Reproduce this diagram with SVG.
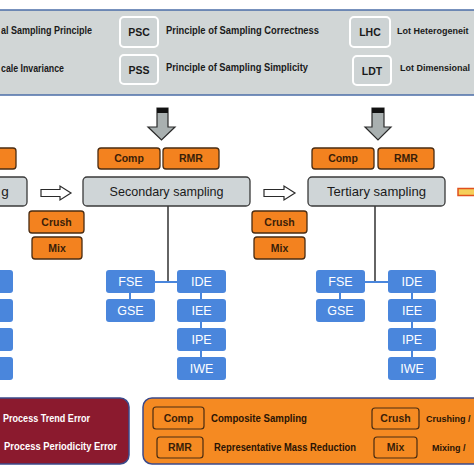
<svg xmlns="http://www.w3.org/2000/svg" width="474" height="474" viewBox="0 0 474 474">
<style>
.lbl{font-family:"Liberation Sans",Arial,sans-serif;font-weight:bold;font-size:10.5px;fill:#1a1a1a}
.abbr{font-family:"Liberation Sans",Arial,sans-serif;font-weight:bold;font-size:10.5px;fill:#1a1a1a;text-anchor:middle}
.wbox{fill:#cdd3d4;stroke:#ffffff;stroke-width:2}
.samp{fill:#cfd5d7;stroke:#3a3a3a;stroke-width:1.3}
.stxt{font-family:"Liberation Sans",Arial,sans-serif;font-size:13.5px;fill:#1a1a1a;text-anchor:middle}
.ob{fill:#f3821f;stroke:#4a2c12;stroke-width:1.3}
.otxt{font-family:"Liberation Sans",Arial,sans-serif;font-weight:bold;font-size:10.5px;fill:#3a1e08;text-anchor:middle}
.bb{fill:#4a86dc}
.btxt{font-family:"Liberation Sans",Arial,sans-serif;font-size:12.5px;fill:#ffffff;text-anchor:middle}
.ib{fill:none;stroke:#4a2c12;stroke-width:1.2}
.wt{font-family:"Liberation Sans",Arial,sans-serif;font-weight:bold;font-size:10.5px;fill:#ffffff}
.dk{font-family:"Liberation Sans",Arial,sans-serif;font-weight:bold;font-size:10.5px;fill:#2a1405}
.blink{stroke:#4a86dc;stroke-width:2}
.down{fill:#a9b0b0;stroke:#2a2a2a;stroke-width:1.2}
.wa{fill:#ffffff;stroke:#2a2a2a;stroke-width:1.2}
.edge{font-size:9px}
</style>
<rect width="474" height="474" fill="#ffffff"/>

<g id="legend-top">
<rect x="-5" y="10" width="484" height="85" fill="#d1d6d6" stroke="#4b6ea8" stroke-width="1.5"/>
<text class="lbl" x="1" y="34" textLength="91" lengthAdjust="spacingAndGlyphs">al Sampling Principle</text>
<text class="lbl" x="1" y="72" textLength="63" lengthAdjust="spacingAndGlyphs">cale Invariance</text>
<rect class="wbox" x="120" y="17" width="38" height="30" rx="4"/>
<text class="abbr" x="139" y="36">PSC</text>
<rect class="wbox" x="120" y="55" width="38" height="29" rx="4"/>
<text class="abbr" x="139" y="74">PSS</text>
<text class="lbl" x="166" y="34" textLength="153" lengthAdjust="spacingAndGlyphs">Principle of Sampling Correctness</text>
<text class="lbl" x="166" y="71" textLength="142" lengthAdjust="spacingAndGlyphs">Principle of Sampling Simplicity</text>
<rect class="wbox" x="350" y="17" width="40" height="30" rx="4"/>
<text class="abbr" x="370" y="36">LHC</text>
<rect class="wbox" x="353" y="56" width="38" height="29" rx="4"/>
<text class="abbr" x="372" y="75">LDT</text>
<text class="lbl edge" x="397" y="34">Lot Heterogeneit</text>
<text class="lbl edge" x="400" y="71">Lot Dimensional</text>
</g>

<g id="connectors">
<path class="down" d="M157,108 H168 V127 H175 L161.5,140 L148,127 H157 Z"/>
<rect x="157" y="108" width="11" height="5" fill="#111"/>
<path class="down" d="M372,108 H384 V127 H391 L378,140 L365,127 H372 Z"/>
<rect x="372" y="108" width="12" height="5" fill="#111"/>
<path class="wa" d="M41,189.5 H60 V186 L71,193 L60,200 V196.5 H41 Z"/>
<path class="wa" d="M264,189.5 H284 V186 L295,193 L284,200 V196.5 H264 Z"/>
<rect x="458" y="188.5" width="22" height="7" fill="#f5cf5a" stroke="#e0501e" stroke-width="1.5"/>
<line x1="168" y1="206" x2="168" y2="282" stroke="#111" stroke-width="1.3"/>
<line class="blink" x1="154" y1="282" x2="178" y2="282"/>
<line x1="375" y1="206" x2="375" y2="282" stroke="#111" stroke-width="1.3"/>
<line class="blink" x1="364" y1="282" x2="389" y2="282"/>
<line class="blink" x1="130" y1="293" x2="130" y2="299"/>
<line class="blink" x1="201" y1="293" x2="201" y2="357"/>
<line class="blink" x1="340" y1="293" x2="340" y2="299"/>
<line class="blink" x1="412" y1="293" x2="412" y2="357"/>
</g>

<g id="primary">
<rect class="ob" x="-20" y="148" width="36" height="21" rx="3"/>
<rect class="samp" x="-120" y="177" width="147" height="29" rx="4"/>
<text class="stxt" x="5" y="196">g</text>
<rect class="ob" x="29" y="211" width="55" height="22" rx="3"/>
<text class="otxt" x="56.5" y="226">Crush</text>
<rect class="ob" x="32" y="237" width="50" height="22" rx="3"/>
<text class="otxt" x="57" y="252">Mix</text>
<rect class="bb" x="-30" y="270" width="43" height="23" rx="3"/>
<rect class="bb" x="-30" y="299" width="43" height="23" rx="3"/>
<rect class="bb" x="-30" y="328" width="43" height="23" rx="3"/>
<rect class="bb" x="-30" y="357" width="43" height="23" rx="3"/>
</g>

<g id="secondary">
<rect class="ob" x="98" y="148" width="62" height="21" rx="3"/>
<text class="otxt" x="129" y="162">Comp</text>
<rect class="ob" x="163" y="148" width="56" height="21" rx="3"/>
<text class="otxt" x="191" y="162">RMR</text>
<rect class="samp" x="83" y="177" width="167" height="29" rx="4"/>
<text class="stxt" x="166.5" y="196" textLength="114" lengthAdjust="spacingAndGlyphs">Secondary sampling</text>
<rect class="ob" x="252" y="211" width="55" height="22" rx="3"/>
<text class="otxt" x="279.5" y="226">Crush</text>
<rect class="ob" x="254" y="237" width="51" height="22" rx="3"/>
<text class="otxt" x="279.5" y="252">Mix</text>
<rect class="bb" x="106" y="270" width="49" height="23" rx="3"/>
<text class="btxt" x="130.5" y="286">FSE</text>
<rect class="bb" x="106" y="299" width="49" height="23" rx="3"/>
<text class="btxt" x="130.5" y="315">GSE</text>
<rect class="bb" x="177" y="270" width="49" height="23" rx="3"/>
<text class="btxt" x="201.5" y="286">IDE</text>
<rect class="bb" x="177" y="299" width="49" height="23" rx="3"/>
<text class="btxt" x="201.5" y="315">IEE</text>
<rect class="bb" x="177" y="328" width="49" height="23" rx="3"/>
<text class="btxt" x="201.5" y="344">IPE</text>
<rect class="bb" x="177" y="357" width="49" height="23" rx="3"/>
<text class="btxt" x="201.5" y="373">IWE</text>
</g>

<g id="tertiary">
<rect class="ob" x="312" y="148" width="62" height="21" rx="3"/>
<text class="otxt" x="343" y="162">Comp</text>
<rect class="ob" x="378" y="148" width="56" height="21" rx="3"/>
<text class="otxt" x="406" y="162">RMR</text>
<rect class="samp" x="308" y="177" width="137" height="29" rx="4"/>
<text class="stxt" x="376.5" y="196" textLength="99" lengthAdjust="spacingAndGlyphs">Tertiary sampling</text>
<rect class="bb" x="316" y="270" width="49" height="23" rx="3"/>
<text class="btxt" x="340.5" y="286">FSE</text>
<rect class="bb" x="316" y="299" width="49" height="23" rx="3"/>
<text class="btxt" x="340.5" y="315">GSE</text>
<rect class="bb" x="388" y="270" width="48" height="23" rx="3"/>
<text class="btxt" x="412" y="286">IDE</text>
<rect class="bb" x="388" y="299" width="48" height="23" rx="3"/>
<text class="btxt" x="412" y="315">IEE</text>
<rect class="bb" x="388" y="328" width="48" height="23" rx="3"/>
<text class="btxt" x="412" y="344">IPE</text>
<rect class="bb" x="388" y="357" width="48" height="23" rx="3"/>
<text class="btxt" x="412" y="373">IWE</text>
</g>

<g id="legend-process">
<rect x="-20" y="398" width="149" height="66" rx="9" fill="#8b1a2e" stroke="#3b4a8a" stroke-width="1.5"/>
<text class="wt" x="3" y="422" textLength="87" lengthAdjust="spacingAndGlyphs">Process Trend Error</text>
<text class="wt" x="4" y="450" textLength="113" lengthAdjust="spacingAndGlyphs">Process Periodicity  Error</text>
</g>

<g id="legend-operations">
<rect x="143" y="398" width="350" height="66" rx="9" fill="#f58a22" stroke="#3b4a8a" stroke-width="1.5"/>
<rect class="ib" x="153" y="407" width="51" height="22" rx="3"/>
<text class="otxt" x="178.5" y="422">Comp</text>
<rect class="ib" x="157" y="437" width="46" height="21" rx="3"/>
<text class="otxt" x="180" y="451">RMR</text>
<text class="dk" x="211" y="422" textLength="96" lengthAdjust="spacingAndGlyphs">Composite Sampling</text>
<text class="dk" x="214" y="451" textLength="142" lengthAdjust="spacingAndGlyphs">Representative Mass Reduction</text>
<rect class="ib" x="372" y="408" width="47" height="21" rx="3"/>
<text class="otxt" x="395.5" y="422">Crush</text>
<rect class="ib" x="374" y="437" width="43" height="21" rx="3"/>
<text class="otxt" x="395.5" y="451">Mix</text>
<text class="dk edge" x="426" y="422">Crushing /</text>
<text class="dk edge" x="432" y="451">Mixing /</text>
</g>
</svg>
